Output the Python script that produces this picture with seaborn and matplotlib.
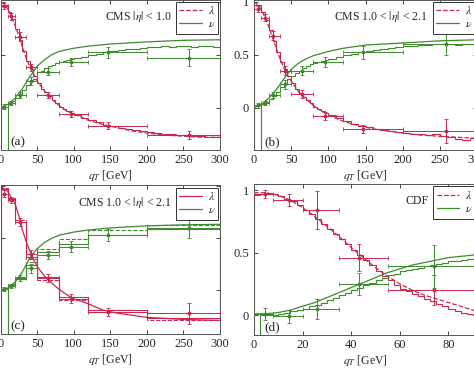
import numpy as np
import matplotlib
matplotlib.use("Agg")
import matplotlib.pyplot as plt
import seaborn as sns
from matplotlib.lines import Line2D

# ==============================
# DATA
# ==============================
RED = "#c8284e"
GREEN = "#3e8a2e"

# measured points: bins, centres, values, errors
bins_lo = [0, 10, 20, 35, 50, 80, 120, 200]
bins_hi = [10, 20, 35, 50, 80, 120, 200, 300]
centres_abc = [5, 15, 26, 42, 65, 96, 147, 258]

lam_pts_a = [0.96, 0.86, 0.67, 0.38, 0.12, -0.06, -0.17, -0.26]
lam_err_a = [0.03, 0.03, 0.04, 0.03, 0.03, 0.03, 0.03, 0.04]
nu_pts_a = [0.01, 0.04, 0.12, 0.25, 0.34, 0.43, 0.52, 0.47]
nu_err_a = [0.02, 0.02, 0.03, 0.04, 0.03, 0.04, 0.05, 0.08]

lam_pts_b = [0.93, 0.85, 0.68, 0.35, 0.13, -0.08, -0.20, -0.22]
lam_err_b = [0.03, 0.03, 0.04, 0.04, 0.04, 0.04, 0.04, 0.11]
nu_pts_b = [0.02, 0.04, 0.12, 0.22, 0.35, 0.43, 0.52, 0.60]
nu_err_b = [0.02, 0.02, 0.03, 0.04, 0.04, 0.05, 0.06, 0.10]

lam_pts_c = [0.93, 0.87, 0.66, 0.35, 0.12, -0.08, -0.21, -0.22]
lam_err_c = [0.03, 0.03, 0.04, 0.04, 0.04, 0.04, 0.04, 0.10]
nu_pts_c = [0.01, 0.04, 0.12, 0.21, 0.34, 0.42, 0.53, 0.60]
nu_err_c = [0.02, 0.02, 0.03, 0.04, 0.04, 0.05, 0.06, 0.10]

bins_lo_d = [0, 8, 20, 35, 55]
bins_hi_d = [8, 20, 35, 55, 100]
centres_d = [4.7, 14.4, 26, 43, 74]
lam_pts_d = [0.97, 0.92, 0.84, 0.46, 0.20]
lam_err_d = [0.035, 0.05, 0.15, 0.11, 0.12]
nu_pts_d = [0.01, -0.01, 0.05, 0.25, 0.39]
nu_err_d = [0.05, 0.05, 0.08, 0.09, 0.17]

# smooth predictions
q_lam_ab = [0, 5, 10, 15, 20, 25, 30, 35, 40, 45, 50, 60, 70, 80, 90, 100,
            120, 140, 160, 180, 200, 225, 250, 275, 300]
lam_curve_a = [1.0, 0.98, 0.93, 0.86, 0.77, 0.68, 0.57, 0.47, 0.39, 0.32, 0.25,
               0.16, 0.08, 0.02, -0.03, -0.06, -0.12, -0.16, -0.19, -0.22,
               -0.24, -0.26, -0.27, -0.28, -0.28]
lam_curve_b = [1.0, 0.97, 0.92, 0.85, 0.76, 0.66, 0.56, 0.46, 0.38, 0.31, 0.25,
               0.15, 0.08, 0.02, -0.03, -0.07, -0.13, -0.17, -0.20, -0.22,
               -0.24, -0.26, -0.27, -0.28, -0.29]
q_nu_ab = [0, 10, 20, 30, 40, 50, 60, 70, 80, 100, 120, 150, 200, 250, 300]
nu_curve_a = [0.0, 0.03, 0.09, 0.18, 0.29, 0.39, 0.45, 0.50, 0.53, 0.56, 0.58,
              0.60, 0.62, 0.635, 0.64]
nu_curve_b = [0.0, 0.03, 0.09, 0.17, 0.27, 0.36, 0.42, 0.46, 0.49, 0.53, 0.56,
              0.59, 0.61, 0.63, 0.64]

q_lam_c = [0, 10, 20, 25, 30, 35, 40, 45, 50, 60, 70, 80, 90, 100, 120, 140,
           160, 200, 250, 300]
lam_curve_c = [1.0, 0.95, 0.83, 0.72, 0.58, 0.47, 0.38, 0.30, 0.23, 0.14, 0.07,
               0.01, -0.04, -0.08, -0.13, -0.19, -0.22, -0.26, -0.28, -0.29]
q_nu_c = [0, 10, 20, 30, 40, 50, 60, 70, 80, 100, 120, 150, 200, 250, 300]
nu_curve_c = [0.0, 0.02, 0.08, 0.18, 0.31, 0.40, 0.46, 0.50, 0.53, 0.56, 0.58,
              0.60, 0.62, 0.63, 0.635]

q_d = [0, 5, 10, 15, 20, 25, 30, 35, 40, 45, 50, 55, 60, 65, 70, 75, 80, 85,
       90, 95]
lam_curve_d = [0.98, 0.98, 0.96, 0.92, 0.86, 0.79, 0.71, 0.63, 0.54, 0.46,
               0.38, 0.31, 0.25, 0.20, 0.16, 0.13, 0.10, 0.07, 0.04, 0.02]
nu_curve_d = [0.01, 0.01, 0.02, 0.04, 0.07, 0.10, 0.14, 0.18, 0.22, 0.26,
              0.30, 0.34, 0.37, 0.40, 0.42, 0.44, 0.46, 0.47, 0.48, 0.49]

# binned predictions (histograms)
edges_ab = [0] + list(range(10, 100, 5)) + list(range(100, 301, 10))
lam_hist_a = [0.97, 0.90, 0.84, 0.74, 0.64, 0.53, 0.44, 0.36, 0.30, 0.23, 0.18,
              0.15, 0.11, 0.07, 0.04, 0.01, -0.01, -0.03, -0.05,
              -0.07, -0.10, -0.12, -0.14, -0.16, -0.17, -0.19, -0.20, -0.21,
              -0.22, -0.23, -0.24, -0.25, -0.25, -0.26, -0.26, -0.27, -0.27,
              -0.28, -0.28]
nu_hist_a = [-1.0, 0.03, 0.06, 0.09, 0.13, 0.17, 0.21, 0.25, 0.27, 0.34, 0.35,
             0.37, 0.39, 0.40, 0.42, 0.43, 0.44, 0.45, 0.46,
             0.47, 0.48, 0.50, 0.51, 0.52, 0.53, 0.54, 0.55, 0.55, 0.56,
             0.57, 0.57, 0.58, 0.57, 0.58, 0.58, 0.57, 0.58, 0.58, 0.57]
lam_hist_b = [0.97, 0.90, 0.83, 0.73, 0.63, 0.52, 0.43, 0.36, 0.30, 0.23, 0.18,
              0.14, 0.10, 0.07, 0.04, 0.01, -0.01, -0.03, -0.05,
              -0.07, -0.10, -0.13, -0.15, -0.17, -0.18, -0.20, -0.21, -0.22,
              -0.23, -0.24, -0.25, -0.25, -0.26, -0.25, -0.27, -0.28, -0.30,
              -0.31, -0.29]
nu_hist_b = [-1.0, 0.03, 0.05, 0.08, 0.11, 0.15, 0.19, 0.23, 0.27, 0.30, 0.33,
             0.35, 0.37, 0.39, 0.41, 0.42, 0.43, 0.44, 0.45,
             0.46, 0.48, 0.50, 0.51, 0.52, 0.53, 0.54, 0.55, 0.56, 0.57,
             0.58, 0.58, 0.59, 0.59, 0.60, 0.60, 0.60, 0.59, 0.60, 0.60]

edges_c = [0, 10, 20, 35, 50, 80, 120, 200, 300]
lam_hist_c = [0.97, 0.88, 0.66, 0.32, 0.13, -0.06, -0.19, -0.27]
lam_hist_c_dash = [0.98, 0.89, 0.68, 0.30, 0.10, -0.09, -0.21, -0.29]
nu_hist_c = [-1.0, 0.05, 0.11, 0.24, 0.37, 0.45, 0.53, 0.59]
nu_hist_c_dash = [-1.0, 0.06, 0.13, 0.27, 0.40, 0.49, 0.58, 0.63]

edges_d = np.arange(0, 95.01, 2.5)
lam_hist_d = [0.96, 0.97, 0.98, 0.97, 0.95, 0.93, 0.91, 0.88, 0.84, 0.81,
              0.77, 0.73, 0.69, 0.65, 0.61, 0.57, 0.52, 0.48, 0.44, 0.40,
              0.35, 0.31, 0.28, 0.24, 0.21, 0.19, 0.17, 0.15, 0.13, 0.11,
              0.09, 0.07, 0.05, 0.03, 0.02, 0.01, 0.00, 0.00]
nu_hist_d = [-1.0, 0.00, 0.00, 0.00, 0.01, 0.02, 0.03, 0.04, 0.05, 0.07,
             0.08, 0.10, 0.12, 0.14, 0.16, 0.18, 0.20, 0.22, 0.24, 0.26,
             0.28, 0.30, 0.32, 0.33, 0.35, 0.36, 0.37, 0.38, 0.39, 0.40,
             0.41, 0.42, 0.43, 0.43, 0.44, 0.45, 0.45, 0.46]

# ==============================
# STYLE
# ==============================
sns.set_theme(style="ticks")
plt.rcParams.update({
    "font.family": ["Liberation Serif", "DejaVu Serif"],
    "mathtext.fontset": "stix",
    "font.size": 9,
    "xtick.direction": "in",
    "ytick.direction": "in",
    "xtick.top": True,
    "ytick.right": True,
    "xtick.major.size": 3,
    "ytick.major.size": 3,
    "xtick.major.width": 0.6,
    "ytick.major.width": 0.6,
    "xtick.major.pad": 3,
    "axes.linewidth": 0.7,
    "axes.edgecolor": "#555555",
    "xtick.labelsize": 9,
    "ytick.labelsize": 9,
    "lines.linewidth": 0.8,
})

W, H = 474, 375
fig = plt.figure(figsize=(W / 100, H / 100), dpi=100)


def make_axes(left_px, right_px, bottom_px, height_px):
    return fig.add_axes([left_px / W, 1 - bottom_px / H,
                         (right_px - left_px) / W, height_px / H])


def points(ax, lo, hi, cx, y, yerr, color):
    cx = np.array(cx)
    ax.errorbar(cx, y, yerr=yerr,
                xerr=[cx - np.array(lo), np.array(hi) - cx],
                fmt="o", ms=1.8, color=color, ecolor=color,
                elinewidth=0.7, capsize=1.2, capthick=0.6, zorder=4)


def curve(ax, x, y, color, ls):
    sns.lineplot(x=x, y=y, ax=ax, color=color, linestyle=ls, lw=0.9,
                 estimator=None, sort=False, legend=False)


def finish(ax, xlim, ylim, xticks, label, tag, lam_ls):
    ax.set_xlim(*xlim)
    ax.set_ylim(*ylim)
    ax.set_xticks(xticks)
    ax.set_yticks([0, 0.5, 1])
    ax.set_yticklabels(["0", "0.5", "1"])
    ax.set_xlabel(r"$q_T$ [GeV]", fontsize=8.5, labelpad=1.5)
    ax.set_ylabel("")
    handles = [Line2D([], [], color=RED, ls=lam_ls, lw=0.9),
               Line2D([], [], color=GREEN, ls="-", lw=0.9)]
    leg = ax.legend(handles, [r"$\lambda$", r"$\nu$"], loc="upper right",
                    bbox_to_anchor=(0.993, 0.985), borderaxespad=0,
                    frameon=True, fancybox=False, framealpha=1,
                    edgecolor="#333333", fontsize=8.5, handlelength=1.9,
                    handletextpad=0.5, labelspacing=0.1, borderpad=0.3)
    leg.get_frame().set_linewidth(0.7)
    ax.text(0.78, 0.885, label, transform=ax.transAxes, ha="right",
            va="center", fontsize=8.5)
    ax.text(0.045, 0.05, tag, transform=ax.transAxes, ha="left",
            va="center", fontsize=9.5)


# ==============================
# PANEL (a)
# ==============================
ax_a = make_axes(0.5, 220, 150, 150.5)
ax_a.stairs(lam_hist_a, edges_ab, color=RED, lw=0.8)
ax_a.stairs(nu_hist_a, edges_ab, color=GREEN, lw=0.8)
curve(ax_a, q_lam_ab, lam_curve_a, RED, "--")
curve(ax_a, q_nu_ab, nu_curve_a, GREEN, "-")
points(ax_a, bins_lo, bins_hi, centres_abc, lam_pts_a, lam_err_a, RED)
points(ax_a, bins_lo, bins_hi, centres_abc, nu_pts_a, nu_err_a, GREEN)
finish(ax_a, (0, 300), (-0.4, 1.02), range(0, 301, 50),
       r"CMS $|\eta|$ < 1.0", "(a)", "--")

# ==============================
# PANEL (b)
# ==============================
ax_b = make_axes(254, 477, 150, 150.5)
ax_b.stairs(lam_hist_b, edges_ab, color=RED, lw=0.8)
ax_b.stairs(nu_hist_b, edges_ab, color=GREEN, lw=0.8)
curve(ax_b, q_lam_ab, lam_curve_b, RED, "--")
curve(ax_b, q_nu_ab, nu_curve_b, GREEN, "-")
points(ax_b, bins_lo, bins_hi, centres_abc, lam_pts_b, lam_err_b, RED)
points(ax_b, bins_lo, bins_hi, centres_abc, nu_pts_b, nu_err_b, GREEN)
finish(ax_b, (0, 300), (-0.4, 1.02), range(0, 301, 50),
       r"CMS 1.0 < $|\eta|$ < 2.1", "(b)", "--")

# ==============================
# PANEL (c)
# ==============================
ax_c = make_axes(0.5, 220, 334, 148.7)
ax_c.stairs(lam_hist_c, edges_c, color=RED, lw=0.8)
ax_c.stairs(lam_hist_c_dash, edges_c, color=RED, lw=0.8, ls="--")
ax_c.stairs(nu_hist_c, edges_c, color=GREEN, lw=0.8)
ax_c.stairs(nu_hist_c_dash, edges_c, color=GREEN, lw=0.8, ls="--")
curve(ax_c, q_lam_c, lam_curve_c, RED, "-")
curve(ax_c, q_nu_c, nu_curve_c, GREEN, "-")
points(ax_c, bins_lo, bins_hi, centres_abc, lam_pts_c, lam_err_c, RED)
points(ax_c, bins_lo, bins_hi, centres_abc, nu_pts_c, nu_err_c, GREEN)
finish(ax_c, (0, 300), (-0.42, 1.01), range(0, 301, 50),
       r"CMS 1.0 < $|\eta|$ < 2.1", "(c)", "-")

# ==============================
# PANEL (d)
# ==============================
ax_d = make_axes(254, 477.6, 335, 151)
ax_d.stairs(lam_hist_d, edges_d, color=RED, lw=0.8)
ax_d.stairs(nu_hist_d, edges_d, color=GREEN, lw=0.8)
curve(ax_d, q_d, lam_curve_d, RED, "--")
curve(ax_d, q_d, nu_curve_d, GREEN, "-")
points(ax_d, bins_lo_d, bins_hi_d, centres_d, lam_pts_d, lam_err_d, RED)
points(ax_d, bins_lo_d, bins_hi_d, centres_d, nu_pts_d, nu_err_d, GREEN)
finish(ax_d, (0, 92), (-0.16, 1.05), range(0, 81, 20), "CDF", "(d)", "--")

fig.savefig("out.png", dpi=100)
